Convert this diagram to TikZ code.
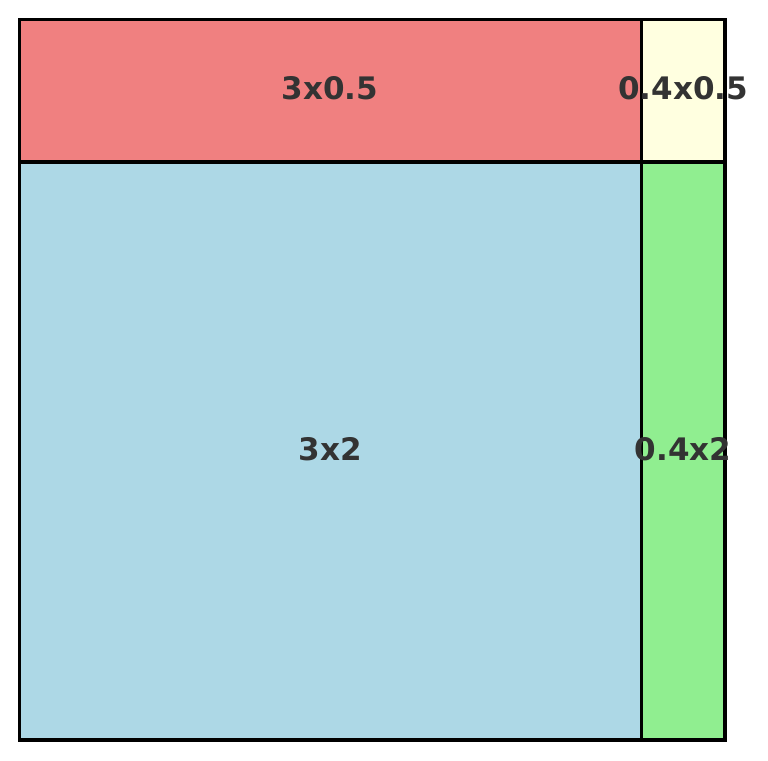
\documentclass[tikz,border=0pt]{standalone}
\usepackage{fontspec}
\setmainfont{DejaVu Sans}
\definecolor{lcoral}{RGB}{240,128,128}
\definecolor{lyellow}{RGB}{255,255,224}
\definecolor{lblue}{RGB}{173,216,230}
\definecolor{lgreen}{RGB}{144,238,144}
\definecolor{txt}{RGB}{51,51,51}
\begin{document}
\begin{tikzpicture}[x=1pt,y=-1pt,
  cell/.style={draw=black,line width=3.5pt},
  lab/.style={font=\fontsize{31}{37}\selectfont\bfseries,text=txt,inner sep=0pt}]
\useasboundingbox (0,0) rectangle (768,760);
\fill[white] (0,0) rectangle (768,760);
\draw[cell,fill=lcoral] (19.5,19.5) rectangle (641.5,162);
\draw[cell,fill=lyellow] (641.5,19.5) rectangle (725,162);
\draw[cell,fill=lblue] (19.5,162) rectangle (641.5,740);
\draw[cell,fill=lgreen] (641.5,162) rectangle (725,740);
\node[lab] (a) at (330,88.5) {3x0.5};
\node[lab] (b) at (683,88.5) {0.4x0.5};
\node[lab] (c) at (330,449.5) {3x2};
\node[lab] (d) at (683,449.5) {0.4x2};
\end{tikzpicture}
\end{document}
